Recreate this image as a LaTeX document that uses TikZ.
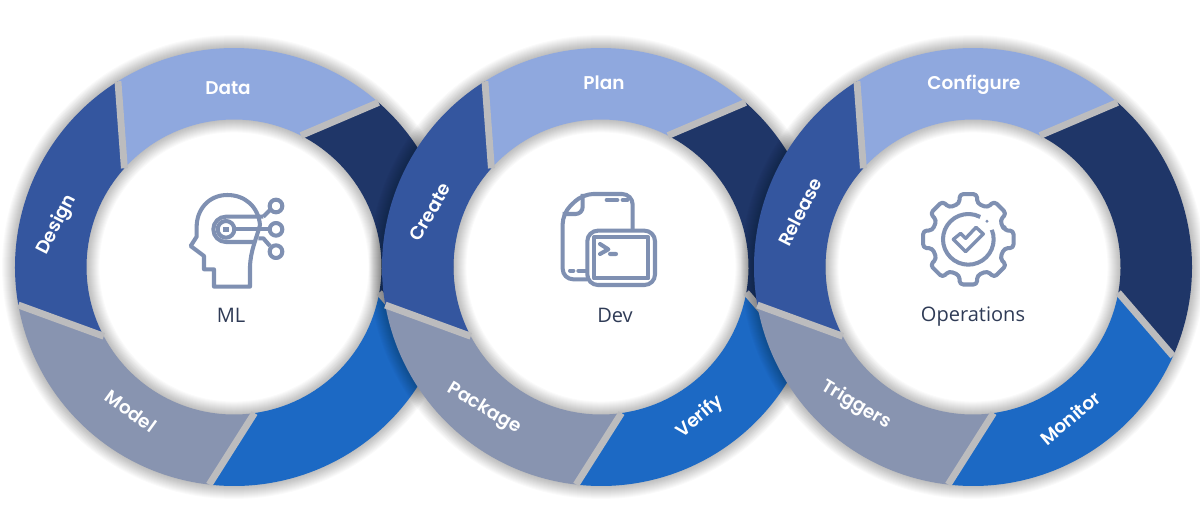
\documentclass[tikz,border=0pt]{standalone}
\usepackage{fontspec}
\newfontfamily\segfont{Poppins SemiBold}
\newfontfamily\midfont{Open Sans}

\definecolor{lightblue}{HTML}{8FA8DE}
\definecolor{navy}{HTML}{1F3668}
\definecolor{midblue}{HTML}{34569F}
\definecolor{slate}{HTML}{8894B0}
\definecolor{brightblue}{HTML}{1C69C4}
\definecolor{gapgray}{HTML}{BCBCBE}
\definecolor{iconblue}{HTML}{7F90B2}
\definecolor{inkblue}{HTML}{2F3B56}

\def\Rout{219}
\def\Rin{147.5}

% one coloured piece: colour, outer angles, inner angles
\newcommand{\segment}[5]{%
	\fill[#1] (#2:\Rout) arc[start angle=#2, end angle=#3, radius=\Rout]
		-- (#5:\Rin) arc[start angle=#5, end angle=#4, radius=\Rin] -- cycle;
}
% one ring, centre in the scope origin
\newcommand{\ring}{%
	\foreach \d in {1,...,13}
		\draw[black, opacity=.021, line width=\d*1.134pt] (0,0) circle [radius=\Rout];
	\fill[white] (0,0) circle [radius=\Rin];
	\foreach \d in {1,...,13}
		\draw[black, opacity=.021, line width=\d*1.134pt] (0,0) circle [radius=\Rin];
	\segment{lightblue}{48.7}{122}{63}{138}
	\segment{midblue}{122}{190}{138}{208}
	\segment{slate}{190}{263.5}{208}{278}
	\segment{brightblue}{263.5}{336}{278}{350}
	\segment{navy}{336}{408.7}{350}{423}
	\foreach \o/\i in {48.7/63, 122/138, 190/208, 263.5/278, 336/350}
		\draw[gapline] (\o:\Rout) -- (\i:\Rin);
}

\begin{document}
\begin{tikzpicture} [
	x=.02cm, y=.02cm,
	gapline/.style = {gapgray, line width=3.9pt},
	seglabel/.style = {text=white, font=\segfont\fontsize{10.5}{13}\selectfont},
	midlabel/.style = {text=inkblue, font=\midfont\fontsize{11.4}{13}\selectfont},
	icon/.style = {draw=iconblue, line width=2.3pt, line join=round},
	iconscale/.style = {x=.02cm/3, y=-.02cm/3},
]
\useasboundingbox (0,0) rectangle (1200,518);
\fill[white] (0,0) rectangle (1200,518);

\begin{scope}[shift={(234,251)}]
	\ring
\end{scope}
\begin{scope}[shift={(601,251)}]
	\ring
\end{scope}
\begin{scope}[shift={(973,251)}]
	\ring
\end{scope}

% ring labels
\node [seglabel] (data) at (228,430) {Data};
\node [seglabel, rotate=63] (design) at (57,293) {Design};
\node [seglabel, rotate=-36] (model) at (131,107) {Model};
\node [seglabel] (plan) at (604,435) {Plan};
\node [seglabel, rotate=60] (create) at (430,306) {Create};
\node [seglabel, rotate=-31] (package) at (484,109) {Package};
\node [seglabel, rotate=40] (verify) at (700,101) {Verify};
\node [seglabel] (configure) at (974,433) {Configure};
\node [seglabel, rotate=63] (release) at (800,306) {Release};
\node [seglabel, rotate=-31] (triggers) at (856,113) {Triggers};
\node [seglabel, rotate=40] (monitor) at (1070,100) {Monitor};

\node [midlabel] (ml) at (231,203) {ML};
\node [midlabel] (dev) at (615,203) {Dev};
\node [midlabel] (operations) at (973,201) {Operations};

% head
\begin{scope}[shift={(150,348)}, iconscale]
	\draw[icon] (300,350) -- (300,290) .. controls (302,240) and (318,210) .. (330,165)
		.. controls (325,110) and (285,75) .. (232,75)
		.. controls (175,75) and (140,120) .. (140,170)
		-- (140,200) -- (122,228) -- (162,258) -- (162,298) -- (192,298) -- (192,350) -- cycle;
	\draw[icon] (340,140) -- (228,140) arc[start angle=-90, end angle=-270, radius=38] -- (312,216);
	\draw[icon] (228,178) circle [radius=25];
	\fill[iconblue] (220,170) rectangle (236,186);
	\draw[icon] (255,178) -- (358,178);
	\draw[icon] (325,205) -- (340,205) -- (360,228);
	\draw[icon] (340,140) -- (362,118);
	\draw[icon] (378,108) circle [radius=19];
	\draw[icon] (378,178) circle [radius=19];
	\draw[icon] (378,245) circle [radius=19];
\end{scope}

% file and terminal
\begin{scope}[shift={(530,348)}, iconscale]
	\draw[icon, rounded corners=6pt] (172,328) -- (98,328) -- (98,130) -- (158,72) -- (308,72) -- (308,182);
	\draw[icon, rounded corners=4pt] (158,72) -- (158,132) -- (98,132);
	\draw[icon, line cap=round] (230,90) -- (262,90) (278,90) -- (292,90);
	\draw[icon, line cap=round] (120,302) -- (130,302) (145,302) -- (168,302);
	\draw[icon, rounded corners=6pt] (172,182) rectangle (375,345);
	\draw[icon] (192,202) rectangle (355,325);
	\draw[icon, line cap=round] (210,222) -- (235,238) -- (210,252) (240,252) -- (258,252);
\end{scope}

% gear
\begin{scope}[shift={(900,348)}, iconscale]
	\begin{scope}[shift={(205,208)}]
		\draw[icon, rounded corners=2pt] (-14:111)
			\foreach \a in {0,45,...,315} {
				-- (\a-14:111) -- (\a-10.8:138) -- (\a+10.8:138) -- (\a+14:111)
			} -- cycle;
		\draw[icon] (-22:76) arc[start angle=-22, end angle=298, radius=76];
		\fill[iconblue] (-44:78) circle [radius=5];
		\draw[icon, line width=1.9pt] (-45,0) -- (-8,37) -- (45,-16) -- (23,-36) -- (-8,-3) -- (-23,-18) -- cycle;
	\end{scope}
\end{scope}
\end{tikzpicture}
\end{document}
